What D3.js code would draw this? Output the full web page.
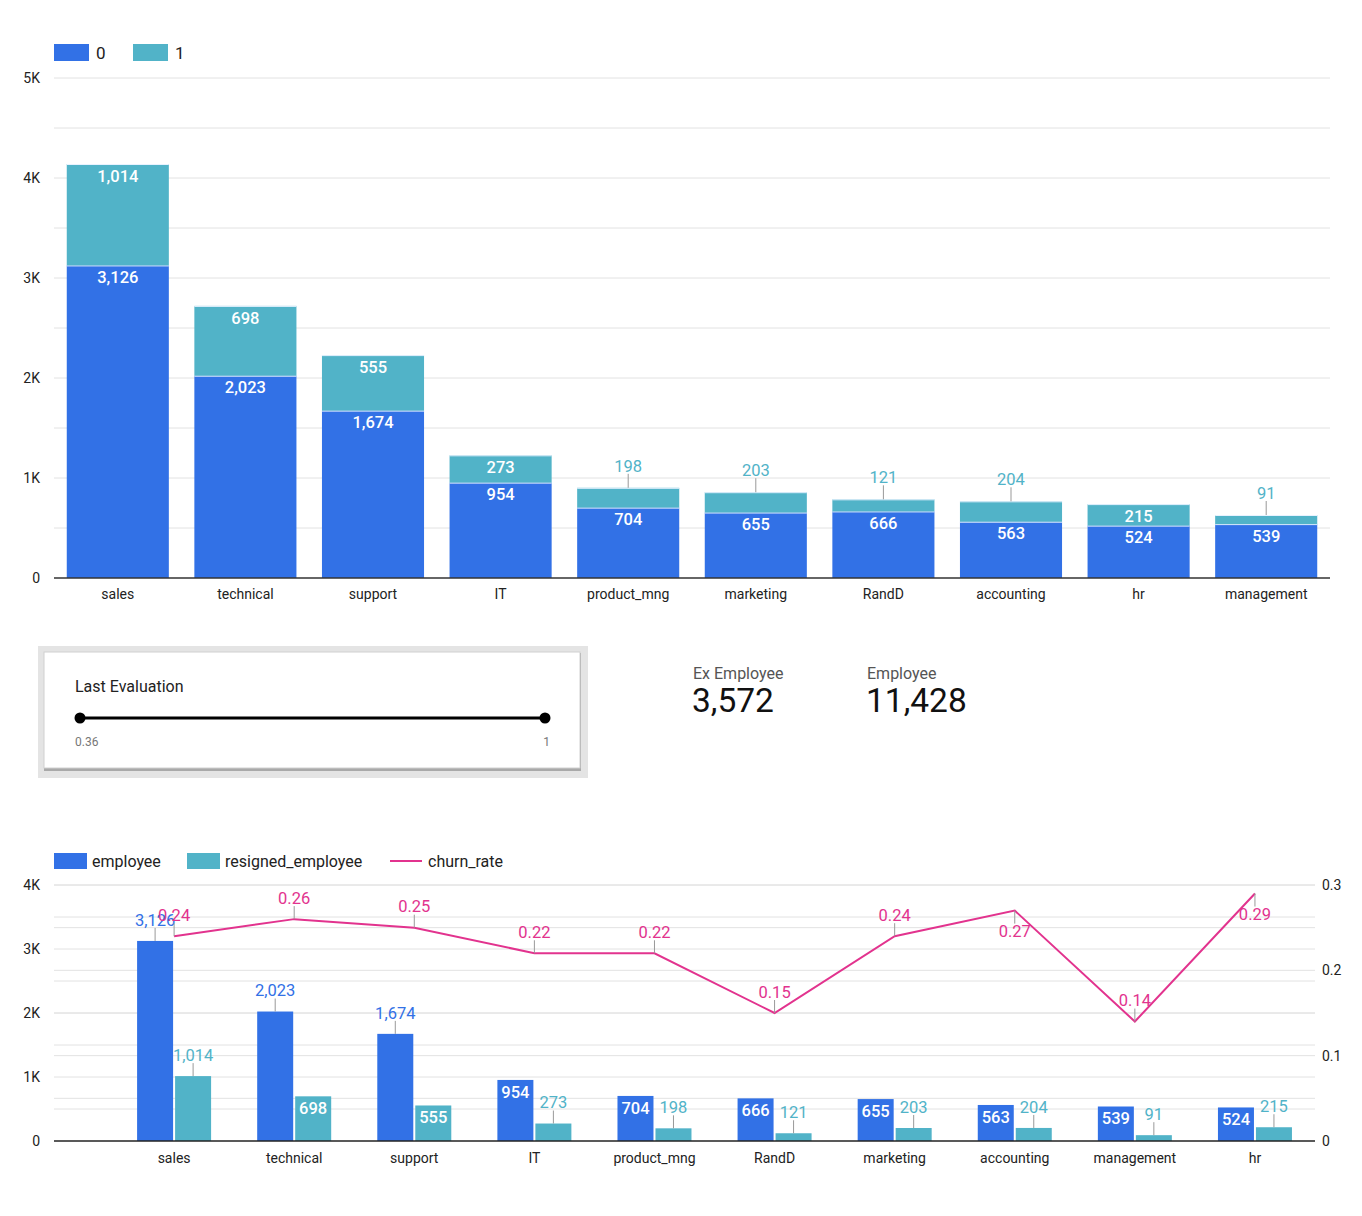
<!DOCTYPE html>
<html>
<head>
<meta charset="utf-8">
<script src="https://cdn.jsdelivr.net/npm/d3@7"></script>
<style>
body { margin: 0; background: #fff; font-family: Roboto, "Noto Sans", sans-serif; }
</style>
</head>
<body>
<div class="board"></div>
<script>
// data
var departments = ["sales", "technical", "support", "IT", "product_mng", "marketing", "RandD", "accounting", "hr", "management"];
var stayed = [3126, 2023, 1674, 954, 704, 655, 666, 563, 524, 539];
var resigned = [1014, 698, 555, 273, 198, 203, 121, 204, 215, 91];
var stackKeys = ["0", "1"];
var topTicks = [0, 1000, 2000, 3000, 4000, 5000];

var comboDepartments = ["sales", "technical", "support", "IT", "product_mng", "RandD", "marketing", "accounting", "management", "hr"];
var churnRate = [0.24, 0.26, 0.25, 0.22, 0.22, 0.15, 0.24, 0.27, 0.14, 0.29];
var comboSeries = ["employee", "resigned_employee", "churn_rate"];
var leftTicks = [0, 1000, 2000, 3000, 4000];
var rightTicks = [0, 0.1, 0.2, 0.3];

var exEmployee = 3572;
var employee = 11428;
var evalRange = [0.36, 1];

var width = 1362;
var height = 1216;
var blue = "#3271e6";
var teal = "#51b3c8";
var pink = "#e2338e";
var grid = "#e2e2e2";
var fmt = d3.format(",");

var svg = d3.select(".board")
    .append("svg")
    .attr("width", width)
    .attr("height", height)
    .style("display", "block");

drawStacked();
drawControls();
drawCombo();

function drawStacked() {
    var m = {left: 54, right: 1330, top: 78, bottom: 578};
    var g = svg.append("g");

    var x = d3.scaleBand()
        .domain(departments)
        .range([m.left, m.right])
        .paddingInner(0.2)
        .paddingOuter(0.1);
    var y = d3.scaleLinear().domain([0, 5000]).range([m.bottom, m.top]);

    // grid every 500
    g.selectAll(".grid")
        .data(d3.range(500, 5001, 500))
        .enter().append("line")
        .attr("x1", m.left).attr("x2", m.right)
        .attr("y1", function (d) { return y(d); })
        .attr("y2", function (d) { return y(d); })
        .attr("stroke", grid);

    g.selectAll(".ytick")
        .data(topTicks)
        .enter().append("text")
        .attr("x", 40)
        .attr("y", function (d) { return y(d); })
        .attr("dy", "0.35em")
        .attr("text-anchor", "end")
        .attr("font-size", 14)
        .attr("fill", "#222")
        .text(function (d) { return d === 0 ? "0" : d / 1000 + "K"; });

    var rows = departments.map(function (d, i) {
        return {dept: d, "0": stayed[i], "1": resigned[i]};
    });
    var series = d3.stack().keys(stackKeys)(rows);
    var colors = [blue, teal];

    series.forEach(function (s, si) {
        g.selectAll(".seg" + si)
            .data(s)
            .enter().append("rect")
            .attr("x", function (d) { return x(d.data.dept); })
            .attr("y", function (d) { return y(d[1]); })
            .attr("width", x.bandwidth())
            .attr("height", function (d) { return y(d[0]) - y(d[1]); })
            .attr("fill", colors[si]);
        // thin light edge at segment top
        g.selectAll(".edge" + si)
            .data(s)
            .enter().append("line")
            .attr("x1", function (d) { return x(d.data.dept); })
            .attr("x2", function (d) { return x(d.data.dept) + x.bandwidth(); })
            .attr("y1", function (d) { return y(d[1]) + 0.5; })
            .attr("y2", function (d) { return y(d[1]) + 0.5; })
            .attr("stroke", "#e8f2ff")
            .attr("stroke-width", 1);

        s.forEach(function (d) {
            var v = d[1] - d[0];
            var cx = x(d.data.dept) + x.bandwidth() / 2;
            var top = y(d[1]);
            if (y(d[0]) - top >= 21) {
                g.append("text")
                    .attr("x", cx).attr("y", top + 12)
                    .attr("dy", "0.35em")
                    .attr("text-anchor", "middle")
                    .attr("font-size", 16.5).attr("font-weight", 500)
                    .attr("fill", "#fff")
                    .text(fmt(v));
            } else {
                g.append("line")
                    .attr("x1", cx).attr("x2", cx)
                    .attr("y1", top - 14).attr("y2", top)
                    .attr("stroke", "#999");
                g.append("text")
                    .attr("x", cx).attr("y", top - 22)
                    .attr("dy", "0.35em")
                    .attr("text-anchor", "middle")
                    .attr("font-size", 16.5)
                    .attr("fill", colors[si])
                    .text(fmt(v));
            }
        });
    });

    g.append("line")
        .attr("x1", m.left).attr("x2", m.right)
        .attr("y1", m.bottom).attr("y2", m.bottom)
        .attr("stroke", "#333").attr("stroke-width", 1.5);

    g.selectAll(".xlab")
        .data(departments)
        .enter().append("text")
        .attr("x", function (d) { return x(d) + x.bandwidth() / 2; })
        .attr("y", 594)
        .attr("dy", "0.35em")
        .attr("text-anchor", "middle")
        .attr("font-size", 14)
        .attr("fill", "#222")
        .text(function (d) { return d; });

    // legend
    var lg = g.selectAll(".lg")
        .data(stackKeys)
        .enter().append("g")
        .attr("transform", function (d, i) { return "translate(" + (54 + i * 79) + ",44)"; });
    lg.append("rect")
        .attr("width", 35).attr("height", 17)
        .attr("fill", function (d, i) { return colors[i]; });
    lg.append("text")
        .attr("x", 42).attr("y", 9)
        .attr("dy", "0.35em")
        .attr("font-size", 17)
        .attr("fill", "#222")
        .text(function (d) { return d; });
}

function drawControls() {
    var g = svg.append("g");
    g.append("rect")
        .attr("x", 38).attr("y", 646)
        .attr("width", 550).attr("height", 132)
        .attr("fill", "#e4e4e4");
    g.append("rect")
        .attr("x", 44).attr("y", 653)
        .attr("width", 537).attr("height", 118)
        .attr("fill", "#a9a9a9");
    g.append("rect")
        .attr("x", 44).attr("y", 652)
        .attr("width", 536).attr("height", 116)
        .attr("fill", "#fff")
        .attr("stroke", "#d0d0d0");
    g.append("text")
        .attr("x", 75).attr("y", 686)
        .attr("dy", "0.35em")
        .attr("font-size", 16)
        .attr("fill", "#222")
        .text("Last Evaluation");

    var s = d3.scaleLinear().domain(evalRange).range([80, 545]);
    g.append("line")
        .attr("x1", s(evalRange[0])).attr("x2", s(evalRange[1]))
        .attr("y1", 718).attr("y2", 718)
        .attr("stroke", "#000").attr("stroke-width", 3);
    g.selectAll(".knob")
        .data(evalRange)
        .enter().append("circle")
        .attr("cx", function (d) { return s(d); })
        .attr("cy", 718).attr("r", 5.5)
        .attr("fill", "#000");
    g.selectAll(".knoblab")
        .data(evalRange)
        .enter().append("text")
        .attr("x", function (d, i) { return i === 0 ? 75 : 550; })
        .attr("y", 742)
        .attr("dy", "0.35em")
        .attr("text-anchor", function (d, i) { return i === 0 ? "start" : "end"; })
        .attr("font-size", 12)
        .attr("fill", "#777")
        .text(function (d) { return d; });

    var cards = [{label: "Ex Employee", value: exEmployee, x: 693}, {label: "Employee", value: employee, x: 867}];
    var c = g.selectAll(".card")
        .data(cards)
        .enter().append("g");
    c.append("text")
        .attr("x", function (d) { return d.x; })
        .attr("y", 673)
        .attr("dy", "0.35em")
        .attr("font-size", 16)
        .attr("fill", "#555")
        .text(function (d) { return d.label; });
    c.append("text")
        .attr("x", function (d) { return d.x - 1; })
        .attr("y", 712)
        .attr("font-size", 33.5)
        .attr("fill", "#111")
        .text(function (d) { return fmt(d.value); });
}

function drawCombo() {
    var m = {left: 54, right: 1315, top: 885, bottom: 1141};
    var g = svg.append("g");

    var step = (m.right - m.left) / (comboDepartments.length + 0.5);
    var x = d3.scaleBand()
        .domain(comboDepartments)
        .range([m.left + step * 0.5, m.right]);
    var y = d3.scaleLinear().domain([0, 4000]).range([m.bottom, m.top]);
    var y2 = d3.scaleLinear().domain([0, 0.3]).range([m.bottom, m.top]);

    var lines = d3.range(500, 4001, 500).map(y).concat(d3.range(1, 7).map(function (k) { return y2(k * 0.05); }));
    g.selectAll(".grid")
        .data(lines)
        .enter().append("line")
        .attr("x1", m.left).attr("x2", m.right)
        .attr("y1", function (d) { return d; })
        .attr("y2", function (d) { return d; })
        .attr("stroke", grid);

    g.selectAll(".yl")
        .data(leftTicks)
        .enter().append("text")
        .attr("x", 40)
        .attr("y", function (d) { return y(d); })
        .attr("dy", "0.35em")
        .attr("text-anchor", "end")
        .attr("font-size", 14)
        .attr("fill", "#222")
        .text(function (d) { return d === 0 ? "0" : d / 1000 + "K"; });

    g.selectAll(".yr")
        .data(rightTicks)
        .enter().append("text")
        .attr("x", 1322)
        .attr("y", function (d) { return y2(d); })
        .attr("dy", "0.35em")
        .attr("font-size", 14)
        .attr("fill", "#222")
        .text(function (d) { return d === 0 ? "0" : d3.format(".1f")(d); });

    // values for the combo chart, in its own order
    var empVals = comboDepartments.map(function (d) { return stayed[departments.indexOf(d)]; });
    var resVals = comboDepartments.map(function (d) { return resigned[departments.indexOf(d)]; });
    var barW = 36;
    var groups = [{vals: empVals, color: blue, off: -barW - 1}, {vals: resVals, color: teal, off: 1}];

    function fitsInside(v) {
        return v >= 400 && v < 1000;
    }

    groups.forEach(function (gr) {
        gr.vals.forEach(function (v, i) {
            var d = comboDepartments[i];
            var bx = x(d) + x.bandwidth() / 2 + gr.off;
            var top = y(v);
            var cx = bx + barW / 2;
            g.append("rect")
                .attr("x", bx).attr("y", top)
                .attr("width", barW).attr("height", m.bottom - top)
                .attr("fill", gr.color);
            if (fitsInside(v)) {
                g.append("text")
                    .attr("x", cx).attr("y", top + 12)
                    .attr("dy", "0.35em")
                    .attr("text-anchor", "middle")
                    .attr("font-size", 16.5).attr("font-weight", 500)
                    .attr("fill", "#fff")
                    .text(fmt(v));
            } else {
                g.append("line")
                    .attr("x1", cx).attr("x2", cx)
                    .attr("y1", top - 13).attr("y2", top)
                    .attr("stroke", "#999");
                g.append("text")
                    .attr("x", cx).attr("y", top - 21)
                    .attr("dy", "0.35em")
                    .attr("text-anchor", "middle")
                    .attr("font-size", 16.5)
                    .attr("fill", gr.color)
                    .text(fmt(v));
            }
        });
    });

    g.append("line")
        .attr("x1", m.left).attr("x2", m.right)
        .attr("y1", m.bottom).attr("y2", m.bottom)
        .attr("stroke", "#222").attr("stroke-width", 1.5);

    var line = d3.line()
        .x(function (d, i) { return x(comboDepartments[i]) + x.bandwidth() / 2; })
        .y(function (d) { return y2(d); });
    g.append("path")
        .datum(churnRate)
        .attr("d", line)
        .attr("fill", "none")
        .attr("stroke", pink)
        .attr("stroke-width", 2);

    churnRate.forEach(function (v, i) {
        var cx = x(comboDepartments[i]) + x.bandwidth() / 2;
        var py = y2(v);
        var below = v >= 0.27;
        var dir = below ? 1 : -1;
        g.append("line")
            .attr("x1", cx).attr("x2", cx)
            .attr("y1", py).attr("y2", py + dir * 13)
            .attr("stroke", "#999");
        g.append("text")
            .attr("x", cx).attr("y", py + dir * 21)
            .attr("dy", "0.35em")
            .attr("text-anchor", "middle")
            .attr("font-size", 16.5)
            .attr("fill", pink)
            .text(d3.format(".2f")(v));
    });

    g.selectAll(".xlab")
        .data(comboDepartments)
        .enter().append("text")
        .attr("x", function (d) { return x(d) + x.bandwidth() / 2; })
        .attr("y", 1158)
        .attr("dy", "0.35em")
        .attr("text-anchor", "middle")
        .attr("font-size", 14)
        .attr("fill", "#222")
        .text(function (d) { return d; });

    // legend
    var lx = [54, 187, 390];
    var lg = g.selectAll(".lg")
        .data(comboSeries)
        .enter().append("g")
        .attr("transform", function (d, i) { return "translate(" + lx[i] + ",853)"; });
    lg.each(function (d, i) {
        var s = d3.select(this);
        if (i < 2) {
            s.append("rect").attr("width", 33).attr("height", 16)
                .attr("fill", groups[i].color);
        } else {
            s.append("line").attr("x1", 0).attr("x2", 32)
                .attr("y1", 8).attr("y2", 8)
                .attr("stroke", pink).attr("stroke-width", 2);
        }
    });
    lg.append("text")
        .attr("x", 38)
        .attr("y", 8)
        .attr("dy", "0.35em")
        .attr("font-size", 16)
        .attr("fill", "#222")
        .text(function (d) { return d; });
}
</script>
</body>
</html>
